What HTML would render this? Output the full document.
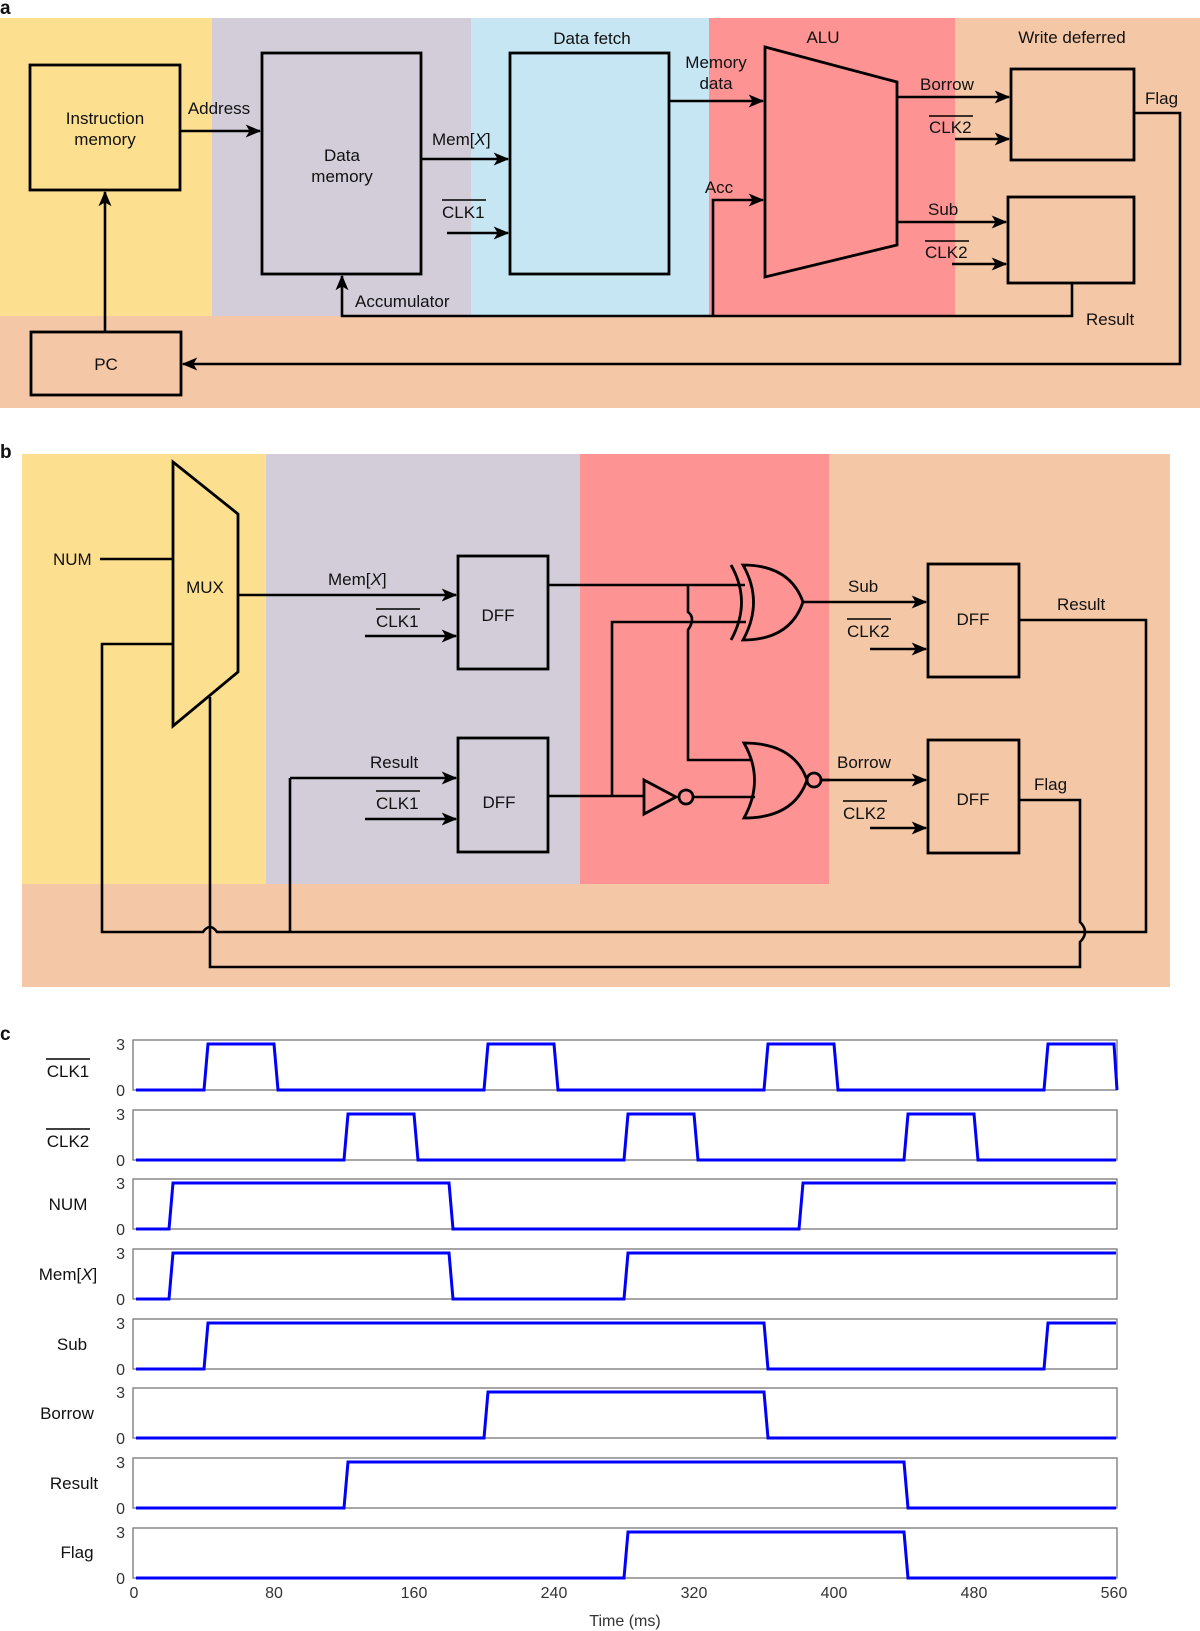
<!DOCTYPE html>
<html><head><meta charset="utf-8"><style>
html,body{margin:0;padding:0;background:#fff}
svg{display:block;font-family:"Liberation Sans",sans-serif}
text{font-size:17px;fill:#111}
.w{stroke:#000;stroke-width:2.6;fill:none}
.b{stroke:#000;stroke-width:2.8}
.wv{stroke:#0000ff;stroke-width:3;fill:none}
.ax{stroke:#777;stroke-width:1.3;fill:none}
.t{font-size:16px;fill:#333}
</style></head><body>
<svg width="1200" height="1631" viewBox="0 0 1200 1631">
<defs><marker id="a" viewBox="0 0 12 10" refX="11" refY="5" markerWidth="7" markerHeight="6" orient="auto" markerUnits="userSpaceOnUse"><path d="M0,0 L12,5 L0,10 L3,5z" fill="#000"/></marker></defs>
<defs><marker id="ar" viewBox="0 0 12 10" refX="11" refY="5" markerWidth="16" markerHeight="13" orient="auto" markerUnits="userSpaceOnUse"><path d="M0,0 L12,5 L0,10 L3,5z" fill="#000"/></marker></defs>
<!-- panel a backgrounds -->
<rect x="0" y="18" width="212" height="299" fill="#fde08f"/>
<rect x="212" y="18" width="259" height="299" fill="#d3cdd9"/>
<rect x="471" y="18" width="238" height="299" fill="#c6e6f3"/>
<rect x="709" y="18" width="246" height="299" fill="#fe9393"/>
<rect x="955" y="18" width="245" height="299" fill="#f4c8a6"/>
<rect x="0" y="316" width="1200" height="92" fill="#f4c8a6"/>
<text x="0" y="14" style="font-weight:bold;font-size:19px">a</text>
<rect x="30" y="65" width="150" height="125" fill="none" class="b"/>
<text x="105" y="124" text-anchor="middle">Instruction</text><text x="105" y="145" text-anchor="middle">memory</text>
<rect x="262" y="53" width="159" height="221" fill="none" class="b"/>
<text x="342" y="161" text-anchor="middle">Data</text><text x="342" y="182" text-anchor="middle">memory</text>
<rect x="510" y="53" width="159" height="221" fill="none" class="b"/>
<text x="592" y="44" text-anchor="middle">Data fetch</text>
<polygon points="765,47 897,82 897,245 765,277" fill="none" class="b"/>
<text x="823" y="43" text-anchor="middle">ALU</text>
<rect x="1011" y="69" width="123" height="91" fill="none" class="b"/>
<rect x="1008" y="197" width="126" height="86" fill="none" class="b"/>
<text x="1072" y="43" text-anchor="middle">Write deferred</text>
<rect x="31" y="332" width="150" height="63" fill="none" class="b"/>
<text x="106" y="370" text-anchor="middle">PC</text>
<g class="w" marker-end="url(#ar)">
<path d="M180,131 H260"/><path d="M421,159 H508"/><path d="M447,233 H508"/><path d="M669,101 H763"/>
<path d="M713,316 V200 H763"/><path d="M897,97 H1009"/><path d="M955,139 H1009"/><path d="M897,222 H1006"/><path d="M952,264 H1006"/>
<path d="M1134,113 H1180 V364 H183"/><path d="M105,332 V192"/><path d="M1072,283 V316 H342 V276"/>
</g>
<text x="219" y="114" text-anchor="middle">Address</text>
<text x="432" y="145">Mem[<tspan font-style="italic">X</tspan>]</text>
<text x="442" y="218">CLK1</text><path d="M442,200 H486" stroke="#000" stroke-width="1.5"/>
<text x="716" y="68" text-anchor="middle">Memory</text><text x="716" y="89" text-anchor="middle">data</text>
<text x="719" y="193" text-anchor="middle">Acc</text>
<text x="355" y="307">Accumulator</text>
<text x="920" y="90">Borrow</text>
<text x="929" y="133">CLK2</text><path d="M929,116 H973" stroke="#000" stroke-width="1.5"/>
<text x="928" y="215">Sub</text>
<text x="925" y="258">CLK2</text><path d="M925,241 H969" stroke="#000" stroke-width="1.5"/>
<text x="1145" y="104">Flag</text>
<text x="1086" y="325">Result</text>

<!-- panel b -->
<text x="0" y="458" style="font-weight:bold;font-size:19px">b</text>
<rect x="22" y="454" width="244" height="430" fill="#fde08f"/>
<rect x="266" y="454" width="314" height="430" fill="#d3cdd9"/>
<rect x="580" y="454" width="249" height="430" fill="#fe9393"/>
<rect x="829" y="454" width="341" height="430" fill="#f4c8a6"/>
<rect x="22" y="884" width="1148" height="103" fill="#f4c8a6"/>
<polygon points="173,462 238,514 238,672 173,726" fill="none" class="b"/>
<text x="205" y="593" text-anchor="middle">MUX</text>
<rect x="458" y="556" width="90" height="113" fill="none" class="b"/><text x="498" y="621" text-anchor="middle">DFF</text>
<rect x="458" y="738" width="90" height="114" fill="none" class="b"/><text x="499" y="808" text-anchor="middle">DFF</text>
<rect x="928" y="564" width="91" height="113" fill="none" class="b"/><text x="973" y="625" text-anchor="middle">DFF</text>
<rect x="928" y="740" width="91" height="113" fill="none" class="b"/><text x="973" y="805" text-anchor="middle">DFF</text>
<!-- XOR -->
<path class="b" fill="none" d="M731,565 Q752,602 731,640"/>
<path class="b" fill="none" d="M743,565 Q790,565 803,602 Q790,640 743,640 Q764,602 743,565z"/>
<!-- NOR -->
<path class="b" fill="none" d="M744,743 Q794,743 807,780 Q794,818 744,818 Q765,780 744,743z"/>
<circle cx="814" cy="780" r="7" class="b" fill="none"/>
<!-- NOT -->
<polygon points="644,780 676,797 644,814" class="b" fill="none"/>
<circle cx="686" cy="797" r="7" class="b" fill="none"/>
<g class="w">
<path d="M548,585 H745"/>
<path d="M688,585 V612 Q696,618 688,630 V760 H752"/>
<path d="M548,796 H644"/><path d="M612,796 V622 H746"/><path d="M693,797 H755"/>
<path d="M100,559 H173"/>
<path d="M1019,620 H1146 V932 H217 Q210,922 203,932 H102 V644 H173"/>
<path d="M290,932 V778"/>
<path d="M1019,800 H1080 V922 Q1090,932 1080,942 V967 H210 V697"/>
<path d="M821,780 H830"/>
</g>
<g class="w" marker-end="url(#ar)">
<path d="M238,595 H456"/><path d="M365,636 H456"/><path d="M290,778 H456"/><path d="M365,819 H456"/>
<path d="M803,602 H926"/><path d="M870,649 H926"/><path d="M821,780 H926"/><path d="M870,828 H926"/>
</g>
<text x="53" y="565">NUM</text>
<text x="328" y="585">Mem[<tspan font-style="italic">X</tspan>]</text>
<text x="376" y="627">CLK1</text><path d="M376,609 H420" stroke="#000" stroke-width="1.5"/>
<text x="370" y="768">Result</text>
<text x="376" y="809">CLK1</text><path d="M376,791 H420" stroke="#000" stroke-width="1.5"/>
<text x="848" y="592">Sub</text>
<text x="847" y="637">CLK2</text><path d="M847,619 H891" stroke="#000" stroke-width="1.5"/>
<text x="837" y="768">Borrow</text>
<text x="843" y="819">CLK2</text><path d="M843,801 H887" stroke="#000" stroke-width="1.5"/>
<text x="1057" y="610">Result</text>
<text x="1034" y="790">Flag</text>

<!-- panel c -->
<text x="0" y="1040" style="font-weight:bold;font-size:19px">c</text>
<g class="ax">
<rect x="133" y="1040" width="984" height="50"/>
<rect x="133" y="1110" width="984" height="50"/>
<rect x="133" y="1179" width="984" height="50"/>
<rect x="133" y="1249" width="984" height="50"/>
<rect x="133" y="1319" width="984" height="50"/>
<rect x="133" y="1388" width="984" height="50"/>
<rect x="133" y="1458" width="984" height="50"/>
<rect x="133" y="1528" width="984" height="50"/>
</g>
<g class="wv">
<polyline points="136,1090 204,1090 208,1044 274,1044 278,1090 484,1090 488,1044 554,1044 558,1090 764,1090 768,1044 834,1044 838,1090 1044,1090 1048,1044 1114,1044 1117,1090"/>
<polyline points="136,1160 344,1160 348,1114 414,1114 418,1160 624,1160 628,1114 694,1114 698,1160 904,1160 908,1114 974,1114 978,1160 1116,1160"/>
<polyline points="136,1229 169,1229 173,1183 449,1183 453,1229 799,1229 803,1183 1116,1183"/>
<polyline points="136,1299 169,1299 173,1253 449,1253 453,1299 624,1299 628,1253 1116,1253"/>
<polyline points="136,1369 204,1369 208,1323 764,1323 768,1369 1044,1369 1048,1323 1116,1323"/>
<polyline points="136,1438 484,1438 488,1392 764,1392 768,1438 1116,1438"/>
<polyline points="136,1508 344,1508 348,1462 904,1462 908,1508 1116,1508"/>
<polyline points="136,1578 624,1578 628,1532 904,1532 908,1578 1116,1578"/>
</g>
<g class="t" text-anchor="end">
<text x="125" y="1050" class="t">3</text><text x="125" y="1096" class="t">0</text>
<text x="125" y="1120" class="t">3</text><text x="125" y="1166" class="t">0</text>
<text x="125" y="1189" class="t">3</text><text x="125" y="1235" class="t">0</text>
<text x="125" y="1259" class="t">3</text><text x="125" y="1305" class="t">0</text>
<text x="125" y="1329" class="t">3</text><text x="125" y="1375" class="t">0</text>
<text x="125" y="1398" class="t">3</text><text x="125" y="1444" class="t">0</text>
<text x="125" y="1468" class="t">3</text><text x="125" y="1514" class="t">0</text>
<text x="125" y="1538" class="t">3</text><text x="125" y="1584" class="t">0</text>
</g>
<g text-anchor="middle">
<text x="68" y="1077">CLK1</text><path d="M46,1059 H90" stroke="#000" stroke-width="1.5"/>
<text x="68" y="1147">CLK2</text><path d="M46,1129 H90" stroke="#000" stroke-width="1.5"/>
<text x="68" y="1210">NUM</text>
<text x="68" y="1280">Mem[<tspan font-style="italic">X</tspan>]</text>
<text x="72" y="1350">Sub</text>
<text x="67" y="1419">Borrow</text>
<text x="74" y="1489">Result</text>
<text x="77" y="1558">Flag</text>
</g>
<g text-anchor="middle">
<text x="134" y="1598" class="t">0</text><text x="274" y="1598" class="t">80</text><text x="414" y="1598" class="t">160</text>
<text x="554" y="1598" class="t">240</text><text x="694" y="1598" class="t">320</text><text x="834" y="1598" class="t">400</text>
<text x="974" y="1598" class="t">480</text><text x="1114" y="1598" class="t">560</text>
<text x="625" y="1626" class="t">Time (ms)</text>
</g>
</svg>
</body></html>
